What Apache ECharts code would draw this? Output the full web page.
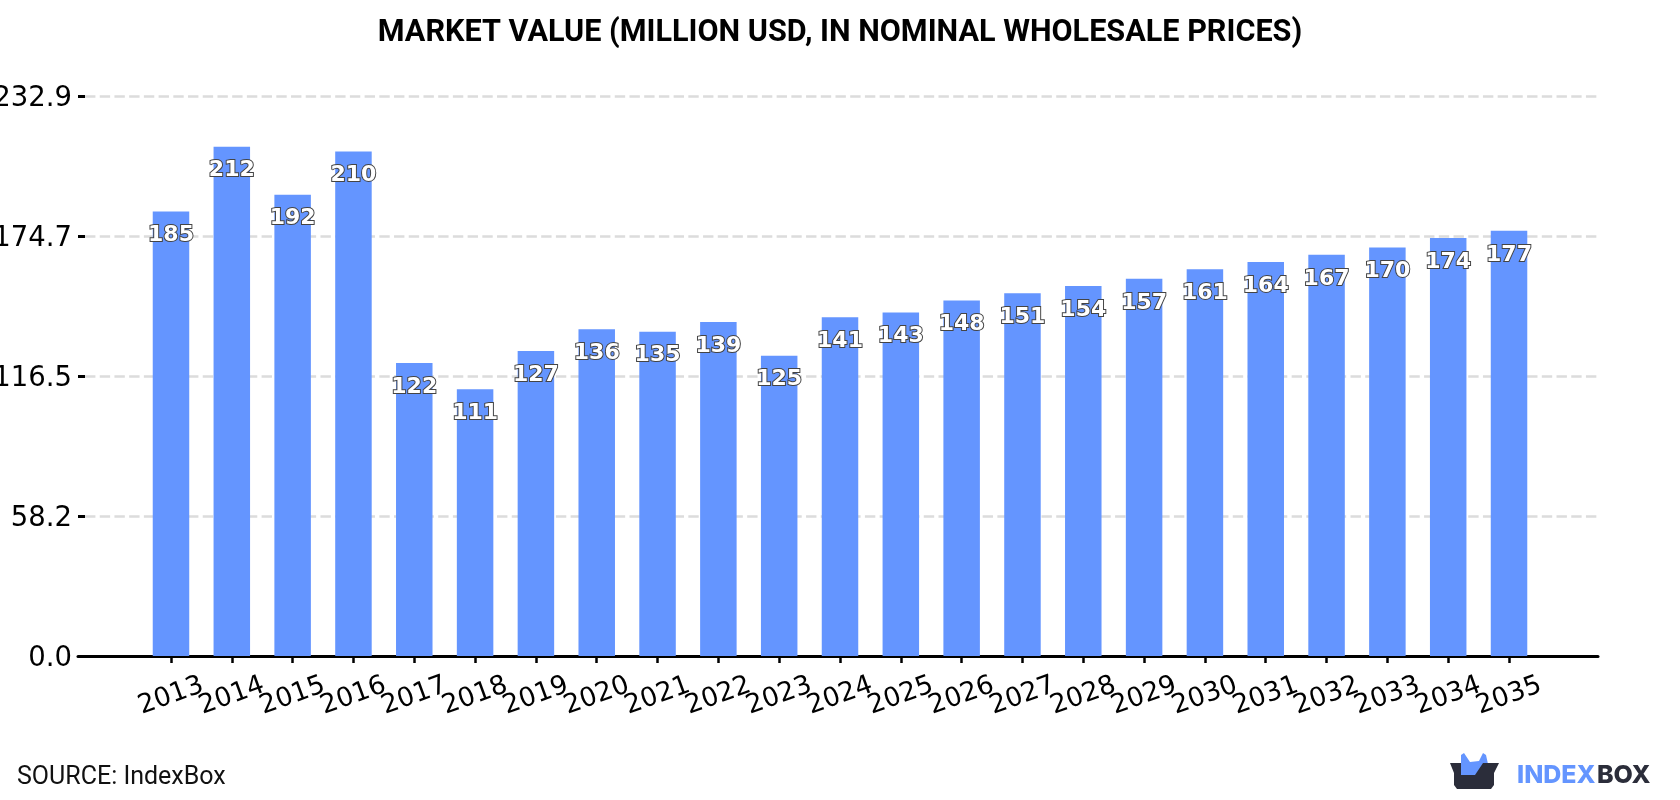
<!DOCTYPE html>
<html>
<head>
<meta charset="utf-8">
<title>Market value</title>
<style>html,body{margin:0;padding:0;background:#fff}#chart{width:1680px;height:800px}</style>
<script src="https://cdn.jsdelivr.net/npm/echarts@6/dist/echarts.min.js"></script>
</head>
<body>
<div id="chart"></div>
<script>
const years = [2013,2014,2015,2016,2017,2018,2019,2020,2021,2022,2023,2024,2025,2026,2027,2028,2029,2030,2031,2032,2033,2034,2035];
const marketValue = [185,212,192,210,122,111,127,136,135,139,125,141,143,148,151,154,157,161,164,167,170,174,177];
const yTicks = [0,58.2,116.5,174.7,232.9];
const xMin = 2011.471, xMax = 2036.463;

const chart = echarts.init(document.getElementById('chart'), null, {renderer:'canvas'});
chart.setOption({
  animation:false,
  backgroundColor:'#fff',
  title:{
    text:'MARKET VALUE (MILLION USD, IN NOMINAL WHOLESALE PRICES)',
    left:'center', top:13,
    textStyle:{fontFamily:'Roboto',fontWeight:'bold',fontSize:30.6,color:'#000'}
  },
  grid:{left:78,right:82,top:96.5,bottom:144,outerBoundsMode:'none'},
  xAxis:{
    type:'value', min:xMin, max:xMax,
    splitLine:{show:false},
    axisLine:{show:true,onZero:false,lineStyle:{color:'#000',width:3}},
    axisTick:{show:true,customValues:years,length:7,lineStyle:{color:'#000',width:2.5}},
    axisLabel:{
      // blank end entries keep the first and last years from being culled as overlaps
      customValues:[xMin,...years,xMax],rotate:20,margin:40,
      align:'center',verticalAlign:'middle',
      hideOverlap:false,
      fontFamily:'DejaVu Sans',fontSize:26.5,color:'#000',
      formatter:v=>years.includes(v)?String(v):''
    }
  },
  yAxis:{
    type:'value', min:0, max:232.9,
    axisLine:{show:false},
    axisTick:{show:true,inside:true,customValues:yTicks,length:7,lineStyle:{color:'#000',width:3}},
    splitLine:{show:true,lineStyle:{color:'#dcdcdc',width:2.7,type:[10.4,4.315],dashOffset:7.7}},
    axisLabel:{
      customValues:yTicks,margin:6,
      formatter:v=>'{n|'+v.toFixed(1)+'}',
      rich:{n:{fontFamily:'DejaVu Sans',fontSize:27.5,color:'#000',padding:[5,0,0,0]}}
    }
  },
  series:[{
    type:'bar',
    barWidth:36.5,
    itemStyle:{color:'#6495ff'},
    data:years.map((y,i)=>[y,marketValue[i]]),
    label:{
      show:true,position:'insideTop',distance:13,
      fontFamily:'DejaVu Sans',fontWeight:'bold',fontSize:22,
      color:'#fff',textBorderColor:'#444',textBorderWidth:2,
      formatter:p=>String(p.value[1])
    }
  }],
  graphic:[
    {type:'text',left:17,top:765,style:{text:'SOURCE: IndexBox',fontFamily:'Roboto',fontSize:25,fill:'#111'}},
    {type:'polygon',shape:{points:[[1461,755],[1464,753],[1470,762],[1479,761],[1483,753],[1486,755],[1488,764],[1478,775],[1461,775]]},style:{fill:'#6495ff'}},
    {type:'polygon',shape:{points:[[1450,763],[1461,763],[1461,775],[1475,775],[1483,763],[1499,763],[1494,773],[1494,785],[1491,789],[1457,789],[1454,785],[1454,773]]},style:{fill:'#2b2d3a'}},
    {type:'text',left:1517,top:763,style:{text:'INDEX',fontFamily:'Inter',fontWeight:800,fontSize:25,fill:'#6495ff',letterSpacing:0.5}},
    {type:'text',left:1597,top:763,style:{text:'BOX',fontFamily:'Inter',fontWeight:800,fontSize:25,fill:'#2b2d3a',letterSpacing:0.5}}
  ]
});
</script>
</body>
</html>
